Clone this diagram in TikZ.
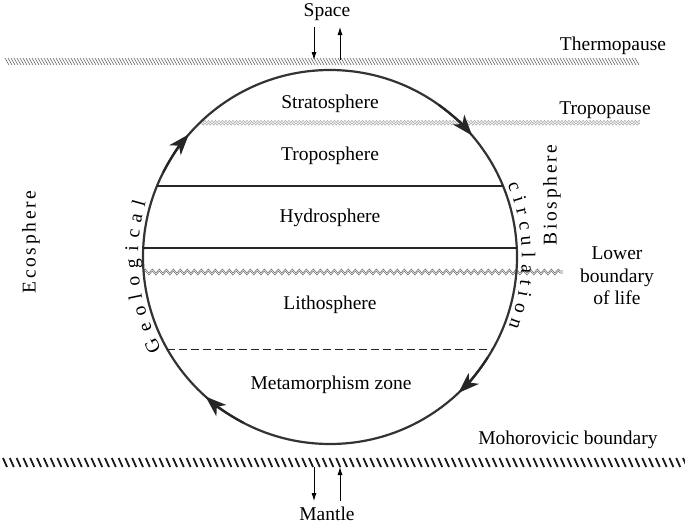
\documentclass[tikz,border=0pt]{standalone}
\usepackage{fontspec}
\setmainfont{Liberation Serif}
\newfontfamily\spacedfont[LetterSpace=14]{Liberation Serif}
\usetikzlibrary{arrows.meta,decorations.pathmorphing}
\begin{document}
\begin{tikzpicture}[x=1pt,y=1pt,
  lab/.style={font=\fontsize{19.5}{22.5}\selectfont, inner sep=0pt},
  ring/.style={line width=2.2pt, black!80},
  chord/.style={line width=1.3pt, black!85},
  ringarrow/.style={line width=2.2pt, black!85, -{Stealth[length=21pt,width=15pt,inset=6pt]}},
  vert/.style={line width=0.8pt, -{Latex[length=8pt,width=5pt]}},
  thermo/.style={line width=0.6pt, black!60},
  moho/.style={line width=1.8pt, black!90},
  tropo/.style={black!35, line width=0.5pt, decorate, decoration={zigzag, amplitude=1.2pt, segment length=3.5pt}},
  lifeb/.style={black!55, line width=0.6pt, decorate, decoration={zigzag, amplitude=2pt, segment length=7pt}}]
\useasboundingbox (0,0) rectangle (685,-528);
\coordinate (O) at (330,-257);
\def\R{187}
% thermopause band
\foreach \x in {5,8,...,636} \draw[thermo] (\x,-58) -- (\x+4,-65);
% tropopause band
\draw[tropo] (200.6,-121.5) -- (640,-121.5);
\draw[tropo] (200.6,-124) -- (640,-124);
% lower boundary of life
\draw[lifeb] (143.6,-271) -- (563,-271);
\draw[lifeb] (143.6,-273) -- (563,-273);
% Moho band
\foreach \x in {3,9.8,...,684} \draw[moho] (\x,-458) -- (\x+4,-467);
% circle
\draw[ring] (O) circle[radius=\R];
% chords
\coordinate (c1L) at (157,-186); \coordinate (c1R) at (503,-186);
\coordinate (c2L) at (143.2,-248); \coordinate (c2R) at (516.8,-248);
\coordinate (dL) at (167,-349); \coordinate (dR) at (493,-349);
\draw[chord] (c1L) -- (c1R);
\draw[chord] (c2L) -- (c2R);
\draw[line width=1pt, black!85, dash pattern=on 8pt off 4pt] (dL) -- (dR);
% circle arrows (clockwise)
\foreach \a in {139,40.5,-46.6,-131.7}
  \draw[ringarrow] ([shift={(\a+14:\R)}]O) arc[start angle=\a+14, end angle=\a, radius=\R];
% zone labels
\node[lab] (strat) at (330,-104) {Stratosphere};
\node[lab] (tropo) at (330,-156) {Troposphere};
\node[lab] (hydro) at (330,-218) {Hydrosphere};
\node[lab] (litho) at (330,-305) {Lithosphere};
\node[lab] (meta) at (331,-385) {Metamorphism zone};
% right labels
\node[lab] (thermoL) at (613,-45.5) {Thermopause};
\node[lab] (tropoL) at (605,-110.5) {Tropopause};
\node[lab, align=center] (lifeL) at (617,-276) {Lower\\boundary\\of life};
\node[lab] (mohoL) at (568,-440) {Mohorovicic boundary};
\node[lab, rotate=90] (eco) at (31,-242) {\spacedfont Ecosphere};
\node[lab, rotate=90] (bio) at (552,-195) {\spacedfont Biosphere};
% space and mantle
\node[lab] (space) at (327,-12) {Space};
\node[lab] (mantle) at (327,-514) {Mantle};
\coordinate (sd1) at (314,-27); \coordinate (sd2) at (314,-60);
\coordinate (su1) at (340,-60); \coordinate (su2) at (340,-27);
\draw[vert] (sd1) -- (sd2);
\draw[vert] (su1) -- (su2);
\coordinate (md1) at (314,-467); \coordinate (md2) at (314,-501);
\coordinate (mu1) at (340,-501); \coordinate (mu2) at (340,-467);
\draw[vert] (md1) -- (md2);
\draw[vert] (mu1) -- (mu2);
% text along circle
\foreach \ch/\ang [count=\i] in {G/206.6,e/201.0,o/196.1,l/191.6,o/187.2,g/182.1,i/177.6,c/173.3,a/168.6,l/164.3} {
  \node[lab, rotate=\ang-90, anchor=base] (geo\i) at ([shift={(\ang:192)}]O) {\ch};
}
\foreach \ch/\ang [count=\i] in {c/21,i/17.0,r/13.4,c/9.2,u/4.6,l/0.5,a/-3.5,t/-7.5,i/-11.0,o/-15.1,n/-19.9} {
  \node[lab, rotate=\ang-90, anchor=base] (circ\i) at ([shift={(\ang:192)}]O) {\ch};
}
\end{tikzpicture}
\end{document}
